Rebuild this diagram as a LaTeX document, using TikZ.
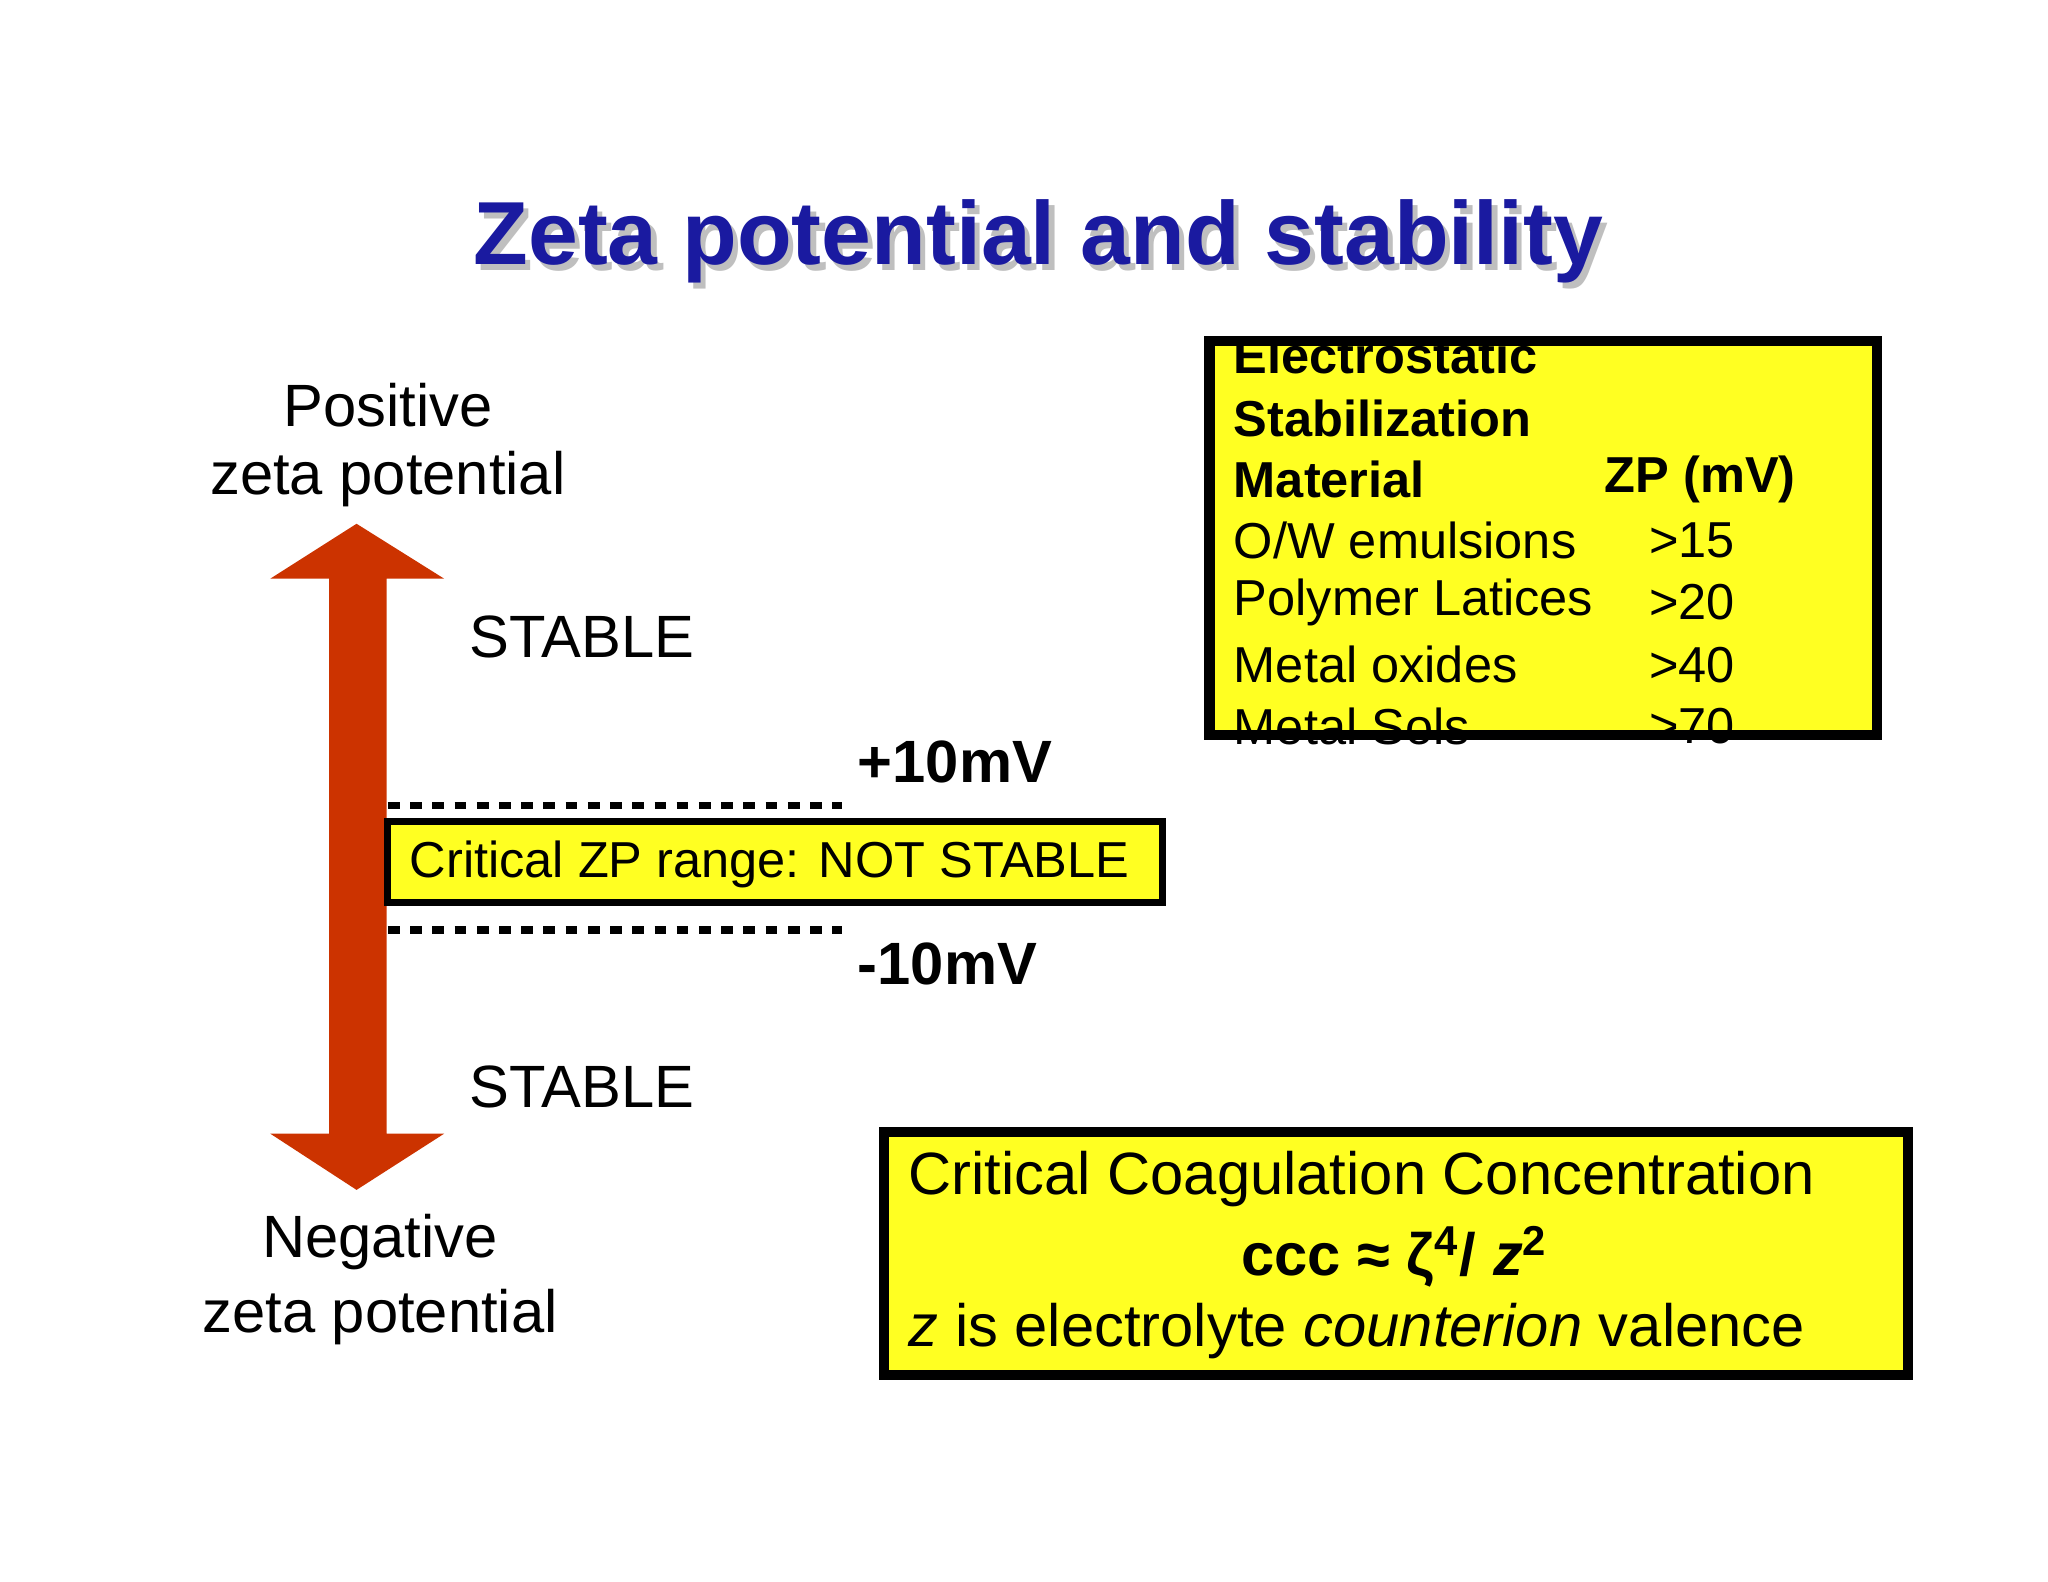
\documentclass[tikz,border=0pt]{standalone}
\usepackage{fontspec}
\setmainfont{Liberation Sans}
\definecolor{navy}{HTML}{1A1AA0}
\definecolor{arrowred}{HTML}{CC3300}
\definecolor{boxyellow}{HTML}{FFFF22}
\begin{document}
\begin{tikzpicture}[x=0.01cm,y=-0.01cm,
  lbl/.style={inner sep=0pt,font=\fontsize{13}{15}\selectfont},
  tbl/.style={inner sep=0pt,anchor=west,font=\fontsize{11}{13}\selectfont},
  ybox/.style={draw=black,fill=boxyellow},
  dotline/.style={line width=0.055cm,dash pattern=on 0.09cm off 0.08cm}]
\useasboundingbox (0,0) rectangle (1568,1211);
\fill[white] (0,0) rectangle (1568,1211);
% title
\node[inner sep=0pt,text=black!25,font=\fontsize{19.5}{22}\bfseries\selectfont] at (799,189) {Zeta potential and stability};
\node (title) [inner sep=0pt,text=navy,font=\fontsize{19.5}{22}\bfseries\selectfont] at (795,185) {Zeta potential and stability};
% arrow
\fill[arrowred] (273,401) -- (340,443) -- (296,443) -- (296,868) -- (340,868) -- (273,911) -- (207,868) -- (252,868) -- (252,443) -- (207,443) -- cycle;
\node (pos1) [lbl] at (297,310) {Positive};
\node (pos2) [lbl] at (297,367) {zeta potential};
\node (neg1) [lbl] at (291,951) {Negative};
\node (neg2) [lbl] at (291,1008) {zeta potential};
\node (st1) [lbl,anchor=west] at (359,488) {STABLE};
\node (st2) [lbl,anchor=west] at (359,832) {STABLE};
\node (p10) [lbl,anchor=west,font=\fontsize{13}{15}\bfseries\selectfont] at (656,583) {+10mV};
\node (m10) [lbl,anchor=west,font=\fontsize{13}{15}\bfseries\selectfont] at (656,738) {-10mV};
\draw[dotline] (297,617) -- (645,617);
\draw[dotline] (297,712) -- (645,712);
% critical box
\draw[ybox,line width=1.5pt] (297,629) rectangle (890,691);
\node (crit) [tbl,font=\fontsize{11}{13}\selectfont] at (313,662) {Critical ZP range: NOT STABLE};
% table box
\draw[ybox,line width=2.2pt] (926,261) rectangle (1437,563);
\node (t1) [tbl,font=\fontsize{11}{13}\bfseries\selectfont] at (944,272) {Electrostatic};
\node (t2) [tbl,font=\fontsize{11}{13}\bfseries\selectfont] at (944,320) {Stabilization};
\node (t3) [tbl,font=\fontsize{11}{13}\bfseries\selectfont] at (944,367) {Material};
\node (t3b) [tbl,font=\fontsize{11}{13}\bfseries\selectfont] at (1228,367) {ZP (mV)};
\node [tbl] at (944,414) {O/W emulsions};
\node [tbl] at (1262,414) {>15};
\node [tbl] at (944,461) {Polymer Latices};
\node [tbl] at (1262,461) {>20};
\node [tbl] at (944,509) {Metal oxides};
\node [tbl] at (1262,509) {>40};
\node [tbl] at (944,556) {Metal Sols};
\node [tbl] at (1262,556) {>70};
% ccc box
\draw[ybox,line width=2.2pt] (677,867) rectangle (1461,1053);
\node (c1) [lbl,anchor=west] at (695,903) {Critical Coagulation Concentration};
\node (c2) [lbl,font=\fontsize{13}{15}\bfseries\selectfont] at (1068,962) {ccc ≈ ζ\textsuperscript{4}/ \textit{z}\textsuperscript{2}};
\node (c3) [lbl,anchor=west] at (695,1019) {\textit{z} is electrolyte \textit{counterion} valence};
\end{tikzpicture}
\end{document}
